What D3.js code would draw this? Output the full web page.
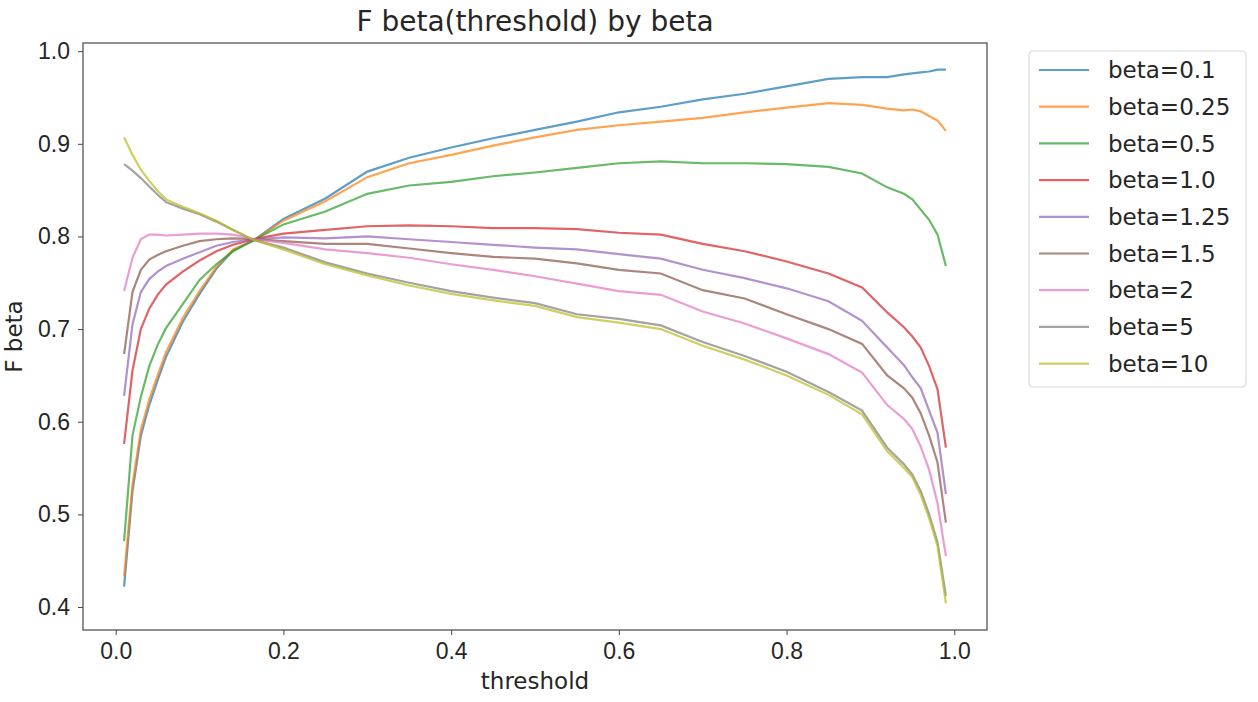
<!DOCTYPE html>
<html>
<head>
<meta charset="utf-8">
<script src="https://cdn.jsdelivr.net/npm/d3@7"></script>
<style>
  body { margin: 0; background: #fff; }
  svg { display: block; font-family: "DejaVu Sans", sans-serif; }
  .tick text { fill: #262626; font-size: 23px; }
  .domain, .tick line { stroke: #444; }
</style>
</head>
<body>
<svg id="chart" width="1258" height="702"></svg>
<script>
var thresholds = [0.01, 0.02, 0.03, 0.04, 0.05, 0.06, 0.08, 0.10, 0.12, 0.14, 0.165,
  0.20, 0.25, 0.30, 0.35, 0.40, 0.45, 0.50, 0.55, 0.60, 0.65, 0.70, 0.75, 0.80, 0.85,
  0.89, 0.92, 0.94, 0.95, 0.96, 0.97, 0.98, 0.99];

var betaLabels = ['beta=0.1', 'beta=0.25', 'beta=0.5', 'beta=1.0', 'beta=1.25',
  'beta=1.5', 'beta=2', 'beta=5', 'beta=10'];

var fBeta01 = [0.422, 0.525, 0.585, 0.618, 0.645, 0.670, 0.708, 0.738, 0.765, 0.785, 0.796,
  0.819, 0.841, 0.870, 0.885, 0.896, 0.906, 0.915, 0.924, 0.934, 0.940, 0.948, 0.954, 0.962, 0.970,
  0.972, 0.972, 0.975, 0.976, 0.977, 0.978, 0.980, 0.980];
var fBeta025 = [0.433, 0.532, 0.591, 0.624, 0.650, 0.675, 0.712, 0.741, 0.767, 0.786, 0.796,
  0.817, 0.838, 0.864, 0.879, 0.888, 0.898, 0.907, 0.915, 0.920, 0.924, 0.928, 0.934, 0.939, 0.944,
  0.942, 0.938, 0.936, 0.937, 0.935, 0.930, 0.925, 0.914];
var fBeta05 = [0.471, 0.585, 0.627, 0.660, 0.683, 0.701, 0.727, 0.753, 0.770, 0.784, 0.796,
  0.813, 0.827, 0.846, 0.855, 0.859, 0.865, 0.869, 0.874, 0.879, 0.881, 0.879, 0.879, 0.878, 0.875,
  0.868, 0.853, 0.846, 0.840, 0.829, 0.818, 0.802, 0.768];
var fBeta1 = [0.576, 0.655, 0.700, 0.722, 0.737, 0.748, 0.762, 0.774, 0.784, 0.791, 0.797,
  0.803, 0.807, 0.811, 0.812, 0.811, 0.809, 0.809, 0.808, 0.804, 0.802, 0.792, 0.784, 0.773, 0.760,
  0.745, 0.718, 0.702, 0.692, 0.680, 0.660, 0.635, 0.572];
var fBeta125 = [0.628, 0.705, 0.740, 0.754, 0.762, 0.768, 0.776, 0.783, 0.790, 0.794, 0.797,
  0.799, 0.798, 0.800, 0.797, 0.794, 0.791, 0.788, 0.786, 0.781, 0.776, 0.764, 0.755, 0.744, 0.730,
  0.709, 0.680, 0.661, 0.648, 0.636, 0.612, 0.588, 0.522];
var fBeta15 = [0.673, 0.740, 0.764, 0.775, 0.780, 0.784, 0.790, 0.795, 0.797, 0.798, 0.797,
  0.795, 0.792, 0.792, 0.787, 0.782, 0.778, 0.776, 0.771, 0.764, 0.760, 0.742, 0.733, 0.716, 0.700,
  0.684, 0.650, 0.636, 0.626, 0.609, 0.585, 0.556, 0.491];
var fBeta2 = [0.741, 0.777, 0.797, 0.802, 0.802, 0.801, 0.802, 0.803, 0.803, 0.802, 0.797,
  0.793, 0.786, 0.782, 0.777, 0.770, 0.764, 0.757, 0.749, 0.741, 0.737, 0.719, 0.706, 0.690, 0.673,
  0.653, 0.618, 0.603, 0.592, 0.573, 0.548, 0.512, 0.455];
var fBeta5 = [0.878, 0.871, 0.863, 0.854, 0.845, 0.837, 0.830, 0.824, 0.816, 0.807, 0.796,
  0.788, 0.772, 0.760, 0.750, 0.741, 0.734, 0.728, 0.716, 0.711, 0.704, 0.686, 0.671, 0.654, 0.632,
  0.612, 0.572, 0.554, 0.543, 0.525, 0.500, 0.470, 0.412];
var fBeta10 = [0.907, 0.888, 0.872, 0.860, 0.849, 0.840, 0.832, 0.825, 0.817, 0.807, 0.796,
  0.786, 0.770, 0.758, 0.747, 0.738, 0.731, 0.725, 0.713, 0.707, 0.700, 0.682, 0.667, 0.650, 0.629,
  0.608, 0.568, 0.550, 0.540, 0.521, 0.496, 0.466, 0.404];

var xTicks = [0.0, 0.2, 0.4, 0.6, 0.8, 1.0];
var yTicks = [0.4, 0.5, 0.6, 0.7, 0.8, 0.9, 1.0];

var seriesValues = [fBeta01, fBeta025, fBeta05, fBeta1, fBeta125, fBeta15, fBeta2, fBeta5, fBeta10];
var colors = ['#1f77b4', '#ff7f0e', '#2ca02c', '#d62728', '#9467bd',
  '#8c564b', '#e377c2', '#7f7f7f', '#bcbd22'];

var svg = d3.select('#chart');
var plot = { left: 83, right: 987, top: 43, bottom: 630 };

// matplotlib style 5% margins around the data
function padded(ext) {
  var p = (ext[1] - ext[0]) * 0.05;
  return [ext[0] - p, ext[1] + p];
}

var allValues = d3.merge(seriesValues);
var x = d3.scaleLinear().domain(padded(d3.extent(thresholds))).range([plot.left, plot.right]);
var y = d3.scaleLinear().domain(padded(d3.extent(allValues))).range([plot.bottom, plot.top]);

svg.append('g')
  .attr('transform', 'translate(0,' + plot.bottom + ')')
  .call(d3.axisBottom(x).tickValues(xTicks).tickFormat(d3.format('.1f'))
    .tickSize(5).tickSizeOuter(0).tickPadding(8));
svg.append('g')
  .attr('transform', 'translate(' + plot.left + ',0)')
  .call(d3.axisLeft(y).tickValues(yTicks).tickFormat(d3.format('.1f'))
    .tickSize(5).tickSizeOuter(0).tickPadding(8));
svg.selectAll('.domain').remove();

var line = d3.line()
  .x(function(d, i) { return x(thresholds[i]); })
  .y(function(d) { return y(d); });

svg.append('g').selectAll('path')
  .data(seriesValues)
  .enter().append('path')
  .attr('d', line)
  .attr('fill', 'none')
  .attr('stroke', function(d, i) { return colors[i]; })
  .attr('stroke-opacity', 0.72)
  .attr('stroke-width', 2.2);

// frame
svg.append('rect')
  .attr('x', plot.left).attr('y', plot.top)
  .attr('width', plot.right - plot.left).attr('height', plot.bottom - plot.top)
  .attr('fill', 'none').attr('stroke', '#555').attr('stroke-width', 1.3);

svg.append('text')
  .attr('x', (plot.left + plot.right) / 2).attr('y', 31)
  .attr('text-anchor', 'middle').attr('font-size', 28).attr('fill', '#262626')
  .text('F beta(threshold) by beta');

svg.append('text')
  .attr('x', (plot.left + plot.right) / 2).attr('y', 689)
  .attr('text-anchor', 'middle').attr('font-size', 23).attr('fill', '#262626')
  .text('threshold');

svg.append('text')
  .attr('transform', 'translate(22,' + ((plot.top + plot.bottom) / 2) + ') rotate(-90)')
  .attr('text-anchor', 'middle').attr('font-size', 23).attr('fill', '#262626')
  .text('F beta');

// legend
var legend = svg.append('g').attr('transform', 'translate(1029,51)');
legend.append('rect')
  .attr('width', 217).attr('height', 336).attr('rx', 4)
  .attr('fill', '#fff').attr('stroke', '#d9d9d9').attr('stroke-width', 1.2);

var rows = legend.selectAll('g.row')
  .data(betaLabels)
  .enter().append('g')
  .attr('class', 'row')
  .attr('transform', function(d, i) { return 'translate(0,' + (19 + i * 36.7) + ')'; });
rows.append('line')
  .attr('x1', 10).attr('x2', 60)
  .attr('stroke', function(d, i) { return colors[i]; })
  .attr('stroke-opacity', 0.72)
  .attr('stroke-width', 2.2);
rows.append('text')
  .attr('x', 79).attr('dy', '0.36em')
  .attr('font-size', 23).attr('fill', '#262626')
  .text(function(d) { return d; });
</script>
</body>
</html>
